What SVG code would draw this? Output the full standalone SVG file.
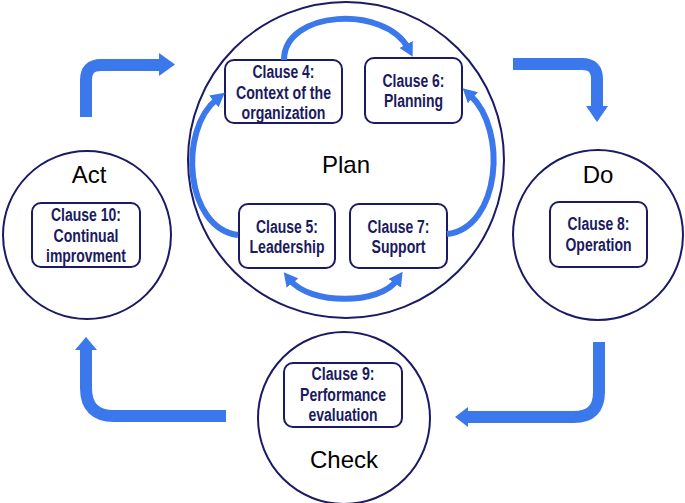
<svg xmlns="http://www.w3.org/2000/svg" width="685" height="503" viewBox="0 0 685 503">
<style>
.circ{fill:#fff;stroke:#1a1a66;stroke-width:2}
.box{fill:#fff;stroke:#1a1a66;stroke-width:2}
.bt{font-family:"Liberation Sans",Arial,sans-serif;font-weight:bold;font-size:18px;fill:#1a1a5e;text-anchor:middle}
.lbl{font-family:"Liberation Sans",Arial,sans-serif;font-size:24px;fill:#000;text-anchor:middle}
.big{fill:none;stroke:#3a78ec;stroke-width:12}
.head{fill:#3a78ec}
.thin{fill:none;stroke:#3a78ec;stroke-width:6}
</style>
<defs>
<marker id="ah" viewBox="0 0 14 15" markerUnits="userSpaceOnUse" markerWidth="14" markerHeight="15" refX="4" refY="7.5" orient="auto-start-reverse">
<path d="M0,0 L14,7.5 L0,15 z" fill="#3a78ec"/>
</marker>
</defs>
<rect width="685" height="503" fill="#fff"/>
<g id="plan">
<circle class="circ" cx="346" cy="160" r="158"/>
<text class="lbl" x="346" y="173">Plan</text>
</g>
<g id="act">
<circle class="circ" cx="87" cy="235" r="84"/>
<text class="lbl" x="89" y="183">Act</text>
</g>
<g id="do">
<circle class="circ" cx="598" cy="235" r="85"/>
<text class="lbl" x="598" y="183">Do</text>
</g>
<g id="check">
<circle class="circ" cx="344" cy="418" r="86"/>
<text class="lbl" x="344" y="468">Check</text>
</g>
<g id="clause4">
<rect class="box" x="225" y="60" width="117" height="63" rx="9"/>
<text class="bt" x="283.5" y="78" textLength="62" lengthAdjust="spacingAndGlyphs">Clause 4:</text>
<text class="bt" x="283.5" y="99" textLength="95" lengthAdjust="spacingAndGlyphs">Context of the</text>
<text class="bt" x="283.5" y="119" textLength="84" lengthAdjust="spacingAndGlyphs">organization</text>
</g>
<g id="clause6">
<rect class="box" x="365" y="58" width="97" height="65" rx="9"/>
<text class="bt" x="413.5" y="87" textLength="62" lengthAdjust="spacingAndGlyphs">Clause 6:</text>
<text class="bt" x="413.5" y="107" textLength="59" lengthAdjust="spacingAndGlyphs">Planning</text>
</g>
<g id="clause5">
<rect class="box" x="239" y="204" width="96" height="64" rx="9"/>
<text class="bt" x="287" y="233" textLength="62" lengthAdjust="spacingAndGlyphs">Clause 5:</text>
<text class="bt" x="287" y="253" textLength="75" lengthAdjust="spacingAndGlyphs">Leadership</text>
</g>
<g id="clause7">
<rect class="box" x="350" y="204" width="97" height="64" rx="9"/>
<text class="bt" x="398.5" y="233" textLength="62" lengthAdjust="spacingAndGlyphs">Clause 7:</text>
<text class="bt" x="398.5" y="253" textLength="54" lengthAdjust="spacingAndGlyphs">Support</text>
</g>
<g id="clause10">
<rect class="box" x="32" y="203" width="108" height="64" rx="9"/>
<text class="bt" x="86" y="221" textLength="70" lengthAdjust="spacingAndGlyphs">Clause 10:</text>
<text class="bt" x="86" y="242" textLength="65" lengthAdjust="spacingAndGlyphs">Continual</text>
<text class="bt" x="86" y="262" textLength="80" lengthAdjust="spacingAndGlyphs">improvment</text>
</g>
<g id="clause8">
<rect class="box" x="550" y="202" width="97" height="65" rx="9"/>
<text class="bt" x="598.5" y="230" textLength="62" lengthAdjust="spacingAndGlyphs">Clause 8:</text>
<text class="bt" x="598.5" y="251" textLength="66" lengthAdjust="spacingAndGlyphs">Operation</text>
</g>
<g id="clause9">
<rect class="box" x="284" y="363" width="118" height="64" rx="9"/>
<text class="bt" x="343" y="380" textLength="63" lengthAdjust="spacingAndGlyphs">Clause 9:</text>
<text class="bt" x="343" y="401" textLength="86" lengthAdjust="spacingAndGlyphs">Performance</text>
<text class="bt" x="343" y="421" textLength="69" lengthAdjust="spacingAndGlyphs">evaluation</text>
</g>
<g id="connectors">
<path class="big" d="M86 117 V80 Q86 65 101 65 H160"/>
<polygon class="head" points="159,53 175,64.5 159,76"/>
<path class="big" d="M513 64 H582 Q597 64 597 79 V107"/>
<polygon class="head" points="586,106 608,106 597,122"/>
<path class="big" d="M599 342 V392 Q599 417 574 417 H467"/>
<polygon class="head" points="468,407 468,427 455,417"/>
<path class="big" d="M226 416 H114 Q86 416 86 388 V349"/>
<polygon class="head" points="75,350 97,350 86,337"/>
<path class="thin" d="M284 60 C284 10 385 5 408 48" marker-end="url(#ah)"/>
<path class="thin" d="M447 234 C500 228 508 130 470 95" marker-end="url(#ah)"/>
<path class="thin" d="M238 235 C185 228 178 130 217 99" marker-end="url(#ah)"/>
<path class="thin" d="M290 280 C310 305 380 305 397 280" marker-start="url(#ah)" marker-end="url(#ah)"/>
</g>
</svg>
